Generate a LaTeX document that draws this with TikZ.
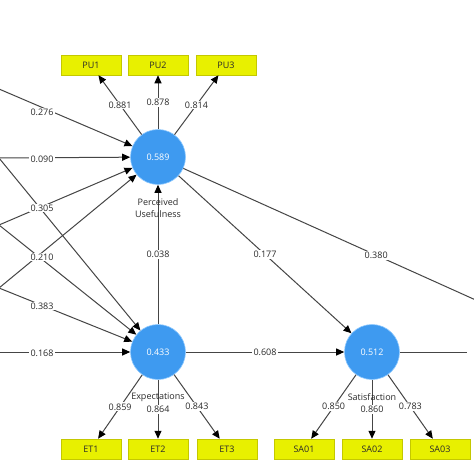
\documentclass[tikz,border=0pt]{standalone}
\usepackage{fontspec}
\setmainfont{Open Sans}
\usetikzlibrary{arrows.meta}
\definecolor{lv}{HTML}{3E9AF0}
\definecolor{lvedge}{HTML}{8CC8FF}
\definecolor{ind}{HTML}{E8F000}
\definecolor{indedge}{HTML}{C4C800}
\definecolor{ln}{HTML}{454545}
\definecolor{tx}{HTML}{2A2A2A}
\begin{document}
\begin{tikzpicture}[x=1pt,y=-1pt,font=\fontsize{9}{10.5}\selectfont,
  lvnode/.style={circle,fill=lv,draw=lvedge,line width=0.6pt,minimum size=55pt,inner sep=0pt,text=white},
  indnode/.style={rectangle,fill=ind,draw=indedge,line width=0.5pt,minimum width=60pt,minimum height=20pt,inner sep=0pt,text=tx},
  conn/.style={draw=ln,line width=1pt,-{Triangle[length=8pt,width=7pt,color=black]}},
  plain/.style={draw=ln,line width=1pt},
  lbl/.style={fill=white,inner xsep=1.2pt,inner ysep=1pt,text=tx},
  lvname/.style={text=tx,align=center,inner sep=0pt,font=\fontsize{9}{11.5}\selectfont}]
\useasboundingbox (0,0) rectangle (474,474);
\clip (0,0) rectangle (474,474);
\fill[white] (0,0) rectangle (474,474);

% latent variables
\node[lvnode] (PU) at (158,157) {0.589};
\node[lvnode] (ET) at (158,352) {0.433};
\node[lvnode] (SA) at (372,352) {0.512};

% indicators
\node[indnode] (PU1) at (91,65) {PU1};
\node[indnode] (PU2) at (158,65) {PU2};
\node[indnode] (PU3) at (226,65) {PU3};
\node[indnode] (ET1) at (91,449) {ET1};
\node[indnode] (ET2) at (158,449) {ET2};
\node[indnode] (ET3) at (227,449) {ET3};
\node[indnode] (SA01) at (304,449) {SA01};
\node[indnode] (SA02) at (372,449) {SA02};
\node[indnode] (SA03) at (440,449) {SA03};

% off-canvas sources / targets
\coordinate (S1) at (-1,89);
\coordinate (S2) at (-1,158);
\coordinate (S3) at (-1,225);
\coordinate (S4) at (-1,288);
\coordinate (S5) at (-1,352);
\coordinate (R1) at (467,352);
\coordinate (R2) at (569,342);

% structural paths from the left
\draw[conn] (S1) -- (PU);
\draw[conn] (S2) -- (PU);
\draw[conn] (S3) -- (PU);
\draw[conn] (S4) -- (PU);
\draw[conn] (S2) -- (ET);
\draw[conn] (S3) -- (ET);
\draw[conn] (S4) -- (ET);
\draw[conn] (S5) -- (ET);

% inner structural paths
\draw[conn] (ET) -- node[lbl]{0.038} (PU);
\draw[conn] (ET) -- node[lbl]{0.608} (SA);
\draw[conn] (PU) -- node[lbl]{0.177} (SA);
\draw[conn] (PU) -- node[lbl]{0.380} (R2);
\draw[plain] (SA) -- (R1);

% loadings
\draw[conn] (PU) -- node[lbl]{0.881} (PU1);
\draw[conn] (PU) -- node[lbl]{0.878} (PU2);
\draw[conn] (PU) -- node[lbl]{0.814} (PU3);
\draw[conn] (ET) -- node[lbl]{0.859} (ET1);
\draw[conn] (ET) -- node[lbl]{0.864} (ET2);
\draw[conn] (ET) -- node[lbl]{0.843} (ET3);
\draw[conn] (SA) -- node[lbl]{0.850} (SA01);
\draw[conn] (SA) -- node[lbl]{0.860} (SA02);
\draw[conn] (SA) -- node[lbl]{0.783} (SA03);

% left path coefficients
\node[lbl] (c1) at (42,112) {0.276};
\node[lbl] (c2) at (42,159) {0.090};
\node[lbl] (c3) at (42,208) {0.305};
\node[lbl] (c4) at (42,257) {0.210};
\node[lbl] (c5) at (42,306) {0.383};
\node[lbl] (c6) at (42,353) {0.168};

% construct names
\node[lvname] (nPU) at (158,208) {Perceived\\Usefulness};
\node[lvname] (nET) at (158,397) {Expectations};
\node[lvname] (nSA) at (372,397) {Satisfaction};
\end{tikzpicture}
\end{document}
